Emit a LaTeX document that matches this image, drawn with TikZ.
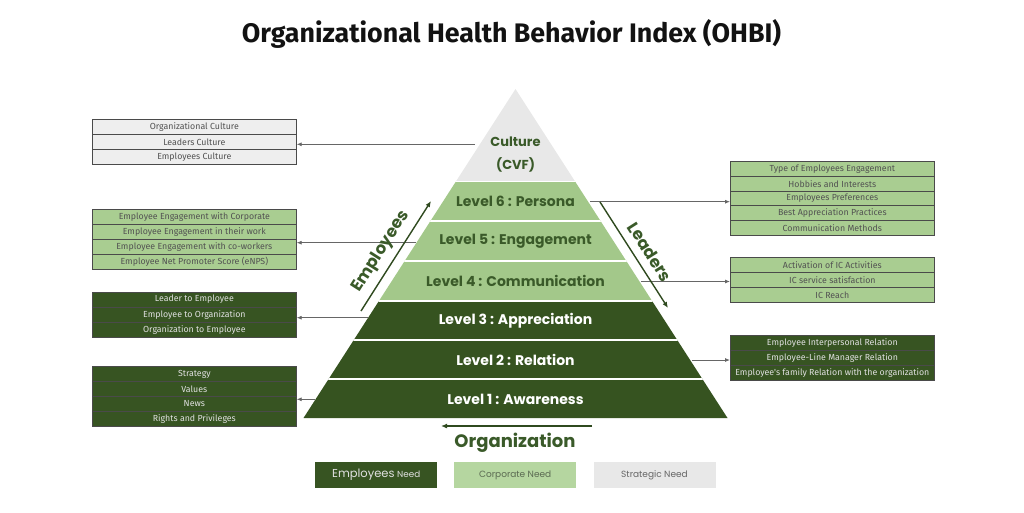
\documentclass[tikz,border=0pt]{standalone}
\usepackage{fontspec}
\usetikzlibrary{arrows.meta}
\setmainfont{Fira Sans}
\newfontfamily\fira{Fira Sans}
\newfontfamily\pop{Poppins}
\definecolor{cultgray}{HTML}{E8E8E8}
\definecolor{boxgray}{HTML}{EEEEEE}
\definecolor{lgreen}{HTML}{A3C88A}
\definecolor{boxlg}{HTML}{A9CD91}
\definecolor{leglg}{HTML}{B5D6A0}
\definecolor{dgreen}{HTML}{365320}
\definecolor{boxdg}{HTML}{375422}
\definecolor{txtgreen}{HTML}{3A5A29}
\definecolor{arrgreen}{HTML}{2F4A1F}
\definecolor{bordergray}{HTML}{4A4A4A}
\definecolor{conngray}{HTML}{666666}
\definecolor{legtxt}{HTML}{5B6B52}
\tikzset{
  row/.style={draw=bordergray, line width=0.7pt, minimum width=204pt, minimum height=15pt,
    inner sep=0pt, anchor=north west, font=\fira\fontsize{8.8}{10}\selectfont},
  rowgray/.style={row, fill=boxgray, text=black!68},
  rowlg/.style={row, fill=boxlg, text=black!68},
  rowdg/.style={row, fill=boxdg, text=white!88!black},
  conn/.style={draw=conngray, line width=0.8pt, -{Latex[length=5pt,width=4pt]}},
  bigarrow/.style={draw=arrgreen, line width=1.4pt, -{Latex[length=6pt,width=5pt]}},
  lvl/.style={font=\pop\bfseries\fontsize{14}{16}\selectfont},
  lvllight/.style={lvl, text=txtgreen},
  lvldark/.style={lvl, text=white},
  cultlbl/.style={font=\pop\bfseries\fontsize{13}{15}\selectfont, text=txtgreen},
  side/.style={font=\pop\bfseries\fontsize{16.5}{18}\selectfont, text=txtgreen},
  legbox/.style={minimum width=122pt, minimum height=26pt, inner sep=0pt, anchor=north west}
}
\begin{document}
\begin{tikzpicture}[x=1pt,y=-1pt]
\useasboundingbox (0,0) rectangle (1024,512);
% title
\node[font=\fira\bfseries\fontsize{26.8}{30}\selectfont, text=black!93] (title) at (511.5,34) {Organizational Health Behavior Index (OHBI)};
% pyramid
\begin{scope}
  \clip (515.5,89) -- (727.5,418) -- (303.5,418) -- cycle;
  \fill[cultgray] (250,80) rectangle (780,181.5);
  \fill[lgreen] (250,181.5) rectangle (780,300.7);
  \fill[dgreen] (250,300.7) rectangle (780,420);
  \foreach \yy in {181.5,221.2,261,300.7,339.8,379.3}
    \draw[white, line width=1.8pt] (250,\yy) -- (780,\yy);
\end{scope}
\node[cultlbl] (cult) at (515.5,141.5) {Culture};
\node[cultlbl] (cvf) at (515.5,165) {(CVF)};
\node[lvllight] (l6) at (515.5,201.5) {Level 6 : Persona};
\node[lvllight] (l5) at (515.5,241) {Level 5 : Engagement};
\node[lvllight] (l4) at (515.5,281) {Level 4 : Communication};
\node[lvldark] (l3) at (515.5,320.5) {Level 3 : Appreciation};
\node[lvldark] (l2) at (515.5,359.5) {Level 2 : Relation};
\node[lvldark] (l1) at (515.5,399.5) {Level 1 : Awareness};
% left boxes
\node[rowgray] (c1) at (92,119.3) {Organizational Culture};
\node[rowgray] (c2) at (92,134.3) {Leaders Culture};
\node[rowgray] (c3) at (92,149.3) {Employees Culture};
\node[rowlg] (e1) at (92,209) {Employee Engagement with Corporate};
\node[rowlg] (e2) at (92,224) {Employee Engagement in their work};
\node[rowlg] (e3) at (92,239) {Employee Engagement with co-workers};
\node[rowlg] (e4) at (92,254) {Employee Net Promoter Score (eNPS)};
\node[rowdg] (a1) at (92,291.7) {Leader to Employee};
\node[rowdg] (a2) at (92,306.7) {Employee to Organization};
\node[rowdg] (a3) at (92,321.7) {Organization to Employee};
\node[rowdg] (w1) at (92,366) {Strategy};
\node[rowdg] (w2) at (92,381) {Values};
\node[rowdg] (w3) at (92,396) {News};
\node[rowdg] (w4) at (92,411) {Rights and Privileges};
% right boxes
\node[rowlg] (p1) at (730,161) {Type of Employees Engagement};
\node[rowlg] (p2) at (730,175.8) {Hobbies and Interests};
\node[rowlg] (p3) at (730,190.6) {Employees Preferences};
\node[rowlg] (p4) at (730,205.4) {Best Appreciation Practices};
\node[rowlg] (p5) at (730,220.2) {Communication Methods};
\node[rowlg] (i1) at (730,257) {Activation of IC Activities};
\node[rowlg] (i2) at (730,272) {IC service satisfaction};
\node[rowlg] (i3) at (730,287) {IC Reach};
\node[rowdg] (r1) at (730,335) {Employee Interpersonal Relation};
\node[rowdg] (r2) at (730,350) {Employee-Line Manager Relation};
\node[rowdg] (r3) at (730,365) {Employee's family Relation with the organization};
% connector start points
\coordinate (scult) at (475,144.3);
\coordinate (s5) at (416,242.7);
\coordinate (s3) at (368,317.7);
\coordinate (s1) at (315,399.3);
\coordinate (s6) at (590,201.7);
\coordinate (s4) at (641,281.5);
\coordinate (s2) at (692,360);
\draw[conn] (scult) -- (c2.east |- scult);
\draw[conn] (s5) -- (e3.east |- s5);
\draw[conn] (s3) -- (a2.east |- s3);
\draw[conn] (s1) -- (w3.east |- s1);
\draw[conn] (s6) -- (p3.west |- s6);
\draw[conn] (s4) -- (i2.west |- s4);
\draw[conn] (s2) -- (r2.west |- s2);
% side arrows
\coordinate (emp0) at (361,311);
\coordinate (emp1) at (431,201);
\draw[bigarrow] (emp0) -- (emp1);
\node[side, rotate=57.5] (emp) at (381,251.5) {Employees};
\coordinate (lead0) at (600,202);
\coordinate (lead1) at (668,308);
\draw[bigarrow] (lead0) -- (lead1);
\node[side, rotate=-57.5] (lead) at (650,252) {Leaders};
\coordinate (org0) at (592,426);
\coordinate (org1) at (441,426);
\draw[bigarrow] (org0) -- (org1);
\node[font=\pop\bfseries\fontsize{18}{20}\selectfont, text=txtgreen] (org) at (515,443) {Organization};
% legend
\node[legbox, fill=boxdg, text=white!88!black] (lg1) at (315,461.7) {{\pop\fontsize{11.5}{13}\selectfont Employees} {\pop\fontsize{8.8}{10}\selectfont Need}};
\node[legbox, fill=leglg, text=legtxt] (lg2) at (454,461.7) {\pop\fontsize{9}{10}\selectfont Corporate Need};
\node[legbox, fill=cultgray, text=black!60] (lg3) at (593.3,461.7) {\pop\fontsize{9}{10}\selectfont Strategic Need};
\end{tikzpicture}
\end{document}
